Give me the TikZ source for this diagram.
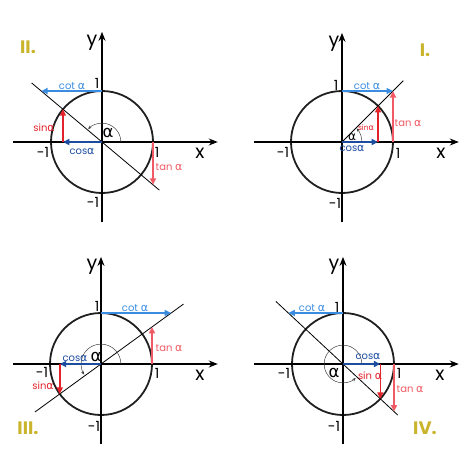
\documentclass[tikz,border=0pt]{standalone}
\usepackage{fontspec}
\setmainfont{Poppins}
\newfontfamily\grk{DejaVu Sans}
\usetikzlibrary{arrows.meta}
\newcommand{\al}{{\grk\scalebox{1.1}{α}}}
\definecolor{cotblue}{HTML}{3A8CE0}
\definecolor{cosblue}{HTML}{1C4C9E}
\definecolor{sinred}{HTML}{E3232C}
\definecolor{tanred}{HTML}{F05A64}
\definecolor{gold}{HTML}{C9B42C}
\tikzset{
  circ/.style={line width=1.8pt, draw=black!88},
  axis/.style={line width=1.2pt, -{Stealth[length=9pt,width=7pt]}},
  diag/.style={line width=0.8pt},
  vec/.style={line width=1.6pt, -{Triangle[length=6.5pt,width=6pt]}},
  cotv/.style={vec, draw=cotblue},
  cosv/.style={vec, draw=cosblue},
  sinv/.style={vec, draw=sinred},
  tanv/.style={vec, draw=tanred},
  angarc/.style={line width=0.5pt, draw=black!75, -{Stealth[length=3.5pt,width=3pt]}},
  lbl/.style={inner sep=0pt, font=\fontsize{10}{12}\selectfont},
  cotl/.style={lbl, text=cotblue},
  cosl/.style={lbl, text=cosblue},
  sinl/.style={lbl, text=sinred},
  tanl/.style={lbl, text=tanred},
  num/.style={inner sep=0pt, font=\fontsize{14}{16}\selectfont},
  axl/.style={inner sep=0pt, font=\fontsize{19}{21}\selectfont},
  bigal/.style={inner sep=0pt, font=\fontsize{15}{17}\selectfont},
  roman/.style={inner sep=0pt, text=gold, font=\fontsize{18}{20}\selectfont\bfseries}
}
\begin{document}
\begin{tikzpicture}[x=1pt,y=-1pt]
\useasboundingbox (0,0) rectangle (474,474);

% ---------------- Panel I ----------------
\begin{scope}[shift={(342pt,-142pt)}, x=51pt, y=51pt]
  \coordinate (IO) at (0,0);
  \coordinate (IxL) at (-1.73,0); \coordinate (IxR) at (2.29,0);
  \coordinate (IyB) at (0,-1.57); \coordinate (IyT) at (0,2.14);
  \coordinate (IP) at (45:1); \coordinate (IPx) at (IP |- IO);
  \coordinate (IE) at (45:1.7);
  \coordinate (IT0) at (1,0); \coordinate (IT) at (1,1);
  \coordinate (IC0) at (0,1); \coordinate (IC) at (1,1);
  \coordinate (IA0) at (0.39,0);
  \draw[circ] (IO) circle[radius=1];
  \draw[axis] (IxL) -- (IxR);
  \draw[axis] (IyB) -- (IyT);
  \draw[diag] (IO) -- (IE);
  \draw[angarc] (IA0) arc[start angle=0, end angle=43, radius=0.39];
  \draw[tanv] (IT0) -- (IT);
  \draw[cotv] (IC0) -- (IC);
  \draw[cosv] (IO) -- (IPx);
  \draw[sinv] (IPx) -- (IP);
\end{scope}
\node[axl] (Iy) at (334,44) {y};
\node[axl] (Ix) at (441,153) {x};
\node[num] (I1t) at (336,85) {1};
\node[num] (Im1l) at (283,152) {-1};
\node[num] (I1r) at (398,153) {1};
\node[num] (Im1b) at (335,203) {-1};
\node[cotl] (Icot) at (367,86) {cot \al};
\node[tanl] (Itan) at (408,123) {tan \al};
\node[sinl, font=\fontsize{7.5}{9}\selectfont] (Isin) at (366,128) {sin\al};
\node[cosl] (Icos) at (352,148) {cos\al};
\node[lbl, font=\fontsize{11}{12}\selectfont] (Ial) at (352,137) {\al};
\node[roman] (Ir) at (425,50) {I.};

% ---------------- Panel II ----------------
\begin{scope}[shift={(102pt,-142pt)}, x=51pt, y=51pt]
  \coordinate (IIO) at (0,0);
  \coordinate (IIxL) at (-1.75,0); \coordinate (IIxR) at (2.27,0);
  \coordinate (IIyB) at (0,-1.57); \coordinate (IIyT) at (0,2.16);
  \coordinate (IIP) at (140:1); \coordinate (IIPx) at (IIP |- IIO);
  \coordinate (IIE1) at (140:1.8); \coordinate (IIE2) at (320:1.47);
  \coordinate (IIT0) at (1,0); \coordinate (IIT) at (1,-0.839);
  \coordinate (IIC0) at (0,1); \coordinate (IIC) at (-1.192,1);
  \coordinate (IIA0) at (0.37,0);
  \draw[circ] (IIO) circle[radius=1];
  \draw[axis] (IIxL) -- (IIxR);
  \draw[axis] (IIyB) -- (IIyT);
  \draw[diag] (IIE1) -- (IIE2);
  \draw[angarc] (IIA0) arc[start angle=0, end angle=137, radius=0.37];
  \draw[tanv] (IIT0) -- (IIT);
  \draw[cotv] (IIC0) -- (IIC);
  \draw[cosv] (IIO) -- (IIPx);
  \draw[sinv] (IIPx) -- (IIP);
\end{scope}
\node[axl] (IIy) at (92,43) {y};
\node[axl] (IIx) at (200,153) {x};
\node[num] (II1t) at (97,83) {1};
\node[num] (IIm1l) at (43,152) {-1};
\node[num] (II1r) at (157,152) {1};
\node[num] (IIm1b) at (93,202) {-1};
\node[cotl] (IIcot) at (72,86) {cot \al};
\node[tanl] (IItan) at (169,167) {tan \al};
\node[sinl] (IIsin) at (44,128) {sin\al};
\node[cosl] (IIcos) at (82,151) {cos\al};
\node[bigal] (IIal) at (108,133) {\al};
\node[roman] (IIr) at (28,47) {II.};

% ---------------- Panel III ----------------
\begin{scope}[shift={(101pt,-364pt)}, x=51pt, y=51pt]
  \coordinate (IIIO) at (0,0);
  \coordinate (IIIxL) at (-1.73,0); \coordinate (IIIxR) at (2.29,0);
  \coordinate (IIIyB) at (0,-1.57); \coordinate (IIIyT) at (0,2.1);
  \coordinate (IIIP) at (216:1); \coordinate (IIIPx) at (IIIP |- IIIO);
  \coordinate (IIIE1) at (216:1.6); \coordinate (IIIE2) at (36:2.0);
  \coordinate (IIIT0) at (1,0); \coordinate (IIIT) at (1,0.7265);
  \coordinate (IIIC0) at (0,1); \coordinate (IIIC) at (1.376,1);
  \coordinate (IIIA0) at (0.39,0);
  \draw[circ] (IIIO) circle[radius=1];
  \draw[axis] (IIIxL) -- (IIIxR);
  \draw[axis] (IIIyB) -- (IIIyT);
  \draw[diag] (IIIE1) -- (IIIE2);
  \draw[angarc] (IIIA0) arc[start angle=0, end angle=212, radius=0.39];
  \draw[tanv] (IIIT0) -- (IIIT);
  \draw[cotv] (IIIC0) -- (IIIC);
  \draw[cosv] (IIIO) -- (IIIPx);
  \draw[sinv] (IIIPx) -- (IIIP);
\end{scope}
\node[axl] (IIIy) at (92,267) {y};
\node[axl] (IIIx) at (200,375) {x};
\node[num] (III1t) at (97,306) {1};
\node[num] (IIIm1l) at (42,372) {-1};
\node[num] (III1r) at (157,373) {1};
\node[num] (IIIm1b) at (94,426) {-1};
\node[cotl] (IIIcot) at (135,308) {cot \al};
\node[tanl] (IIItan) at (169,348) {tan \al};
\node[cosl] (IIIcos) at (75,358) {cos\al};
\node[bigal] (IIIal) at (96,357) {\al};
\node[sinl] (IIIsin) at (43,386) {sin\al};
\node[roman] (IIIr) at (28,428) {III.};

% ---------------- Panel IV ----------------
\begin{scope}[shift={(343pt,-364pt)}, x=51pt, y=51pt]
  \coordinate (IVO) at (0,0);
  \coordinate (IVxL) at (-1.75,0); \coordinate (IVxR) at (2.27,0);
  \coordinate (IVyB) at (0,-1.57); \coordinate (IVyT) at (0,2.1);
  \coordinate (IVP) at (317:1); \coordinate (IVPx) at (IVP |- IVO);
  \coordinate (IVE1) at (137:1.8); \coordinate (IVE2) at (317:1.47);
  \coordinate (IVT0) at (1,0); \coordinate (IVT) at (1,-0.9325);
  \coordinate (IVC0) at (0,1); \coordinate (IVC) at (-1.072,1);
  \coordinate (IVA0) at (0.37,0);
  \draw[circ] (IVO) circle[radius=1];
  \draw[axis] (IVxL) -- (IVxR);
  \draw[axis] (IVyB) -- (IVyT);
  \draw[diag] (IVE1) -- (IVE2);
  \draw[angarc] (IVA0) arc[start angle=0, end angle=312, radius=0.37];
  \draw[tanv] (IVT0) -- (IVT);
  \draw[cotv] (IVC0) -- (IVC);
  \draw[cosv] (IVO) -- (IVPx);
  \draw[sinv] (IVPx) -- (IVP);
\end{scope}
\node[axl] (IVy) at (334,267) {y};
\node[axl] (IVx) at (440,375) {x};
\node[num] (IV1t) at (337,307) {1};
\node[num] (IVm1l) at (284,373) {-1};
\node[num] (IV1r) at (399,373) {1};
\node[num] (IVm1b) at (334,426) {-1};
\node[cotl] (IVcot) at (312,308) {cot \al};
\node[cosl] (IVcos) at (368,356) {cos\al};
\node[sinl] (IVsin) at (370,376) {sin \al};
\node[bigal] (IVal) at (334,373) {\al};
\node[tanl] (IVtan) at (410,389) {tan \al};
\node[roman] (IVr) at (425,428) {IV.};
\end{tikzpicture}
\end{document}
